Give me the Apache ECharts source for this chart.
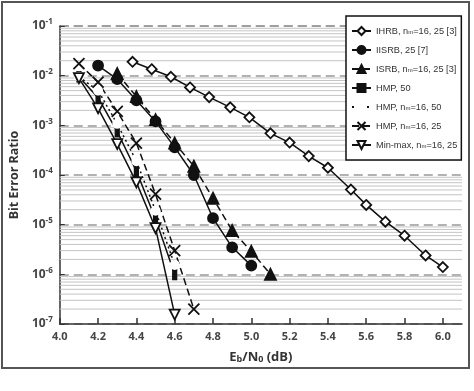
<!DOCTYPE html>
<html><head><meta charset="utf-8">
<script src="https://cdn.jsdelivr.net/npm/echarts@6/dist/echarts.min.js"></script>
<style>html,body{margin:0;padding:0;background:#fff}#c{width:474px;height:391px}</style>
</head><body><div id="c"></div>
<script>
// ---- data ----
const seriesNames = ['IHRB, n_m=16, 25 [3]','IISRB, 25 [7]','ISRB, n_m=16, 25 [3]','HMP, 50','HMP, n_m=16, 50','HMP, n_m=16, 25','Min-max, n_m=16, 25'];
const ihrbX = [4.38,4.48,4.58,4.68,4.78,4.89,4.99,5.10,5.20,5.30,5.40,5.52,5.60,5.70,5.80,5.91,6.00];
const ihrbY = [1.9e-2,1.35e-2,9.5e-3,5.8e-3,3.7e-3,2.3e-3,1.45e-3,6.9e-4,4.5e-4,2.4e-4,1.4e-4,5.1e-5,2.5e-5,1.15e-5,6.0e-6,2.4e-6,1.4e-6];
const iisrbX = [4.2,4.3,4.4,4.5,4.6,4.7,4.8,4.9,5.0];
const iisrbY = [1.6e-2,8.5e-3,3.2e-3,1.2e-3,3.6e-4,1.0e-4,1.35e-5,3.5e-6,1.5e-6];
const isrbX = [4.3,4.4,4.5,4.6,4.7,4.8,4.9,5.0,5.1];
const isrbY = [1.1e-2,3.8e-3,1.3e-3,4.4e-4,1.5e-4,3.4e-5,7.6e-6,2.9e-6,1.0e-6];
const hmp50X = [4.1,4.2,4.3,4.4,4.5,4.6];
const hmp50Y = [9.5e-3,3.6e-3,7.5e-4,1.2e-4,1.3e-5,1.0e-6];
const hmpN50X = [4.1,4.2,4.3,4.4,4.5,4.6];
const hmpN50Y = [9.5e-3,5.0e-3,1.07e-3,1.9e-4,1.9e-5,1.55e-6];
const hmpN25X = [4.1,4.2,4.3,4.4,4.5,4.6,4.7];
const hmpN25Y = [1.75e-2,7.4e-3,1.9e-3,4.4e-4,4.1e-5,3.0e-6,2.0e-7];
const minmaxX = [4.1,4.2,4.3,4.4,4.5,4.6];
const minmaxY = [8.9e-3,2.2e-3,4.2e-4,7.1e-5,8.5e-6,1.55e-7];
const xTicks = [4.0,4.2,4.4,4.6,4.8,5.0,5.2,5.4,5.6,5.8,6.0];
const xRange = [4.0, 6.1];
const yMinorLines = [];
for (let e = -7; e < -1; e++) for (let m = 2; m <= 9; m++) yMinorLines.push(m * Math.pow(10, e));

const pair = (xs, ys) => xs.map((x, i) => [x, ys[i]]);
const K = '#111';
const base = (name, xs, ys, symbol, size, fill, lineType) => ({
  name, type: 'line', data: pair(xs, ys), symbol, symbolSize: size,
  lineStyle: {color: K, width: 1.5, type: lineType},
  itemStyle: {color: fill, borderColor: K, borderWidth: 1.8},
  z: 3
});
const series = [
  base(seriesNames[0], ihrbX, ihrbY, 'diamond', 10, '#fff', 'solid'),
  base(seriesNames[1], iisrbX, iisrbY, 'circle', 10, K, 'solid'),
  base(seriesNames[2], isrbX, isrbY, 'triangle', 11, K, [7,4]),
  base(seriesNames[3], hmp50X, hmp50Y, 'rect', [4,9], K, 'solid'),
  base(seriesNames[4], hmpN50X, hmpN50Y, 'emptyCircle', 8, '#fff', [2,3]),
  base(seriesNames[5], hmpN25X, hmpN25Y, 'path://M0,0L10,10M10,0L0,10', 11, K, [7,4]),
  base(seriesNames[6], minmaxX, minmaxY, 'path://M0,0L10,0L5,9Z', 10, '#fff', 'solid')
];
// minor horizontal grid lines at 2..9 x 10^n, drawn through the axes
const minorData = [];
yMinorLines.forEach(v => { minorData.push([xRange[0], v], [xRange[1], v], [xRange[1], '-']); });
series.push({
  type: 'line', data: minorData, silent: true, z: 1, symbol: 'none', connectNulls: false,
  lineStyle: {color: '#c4c4c4', width: 1, type: 'solid'}
});

const legendFmt = n => {
  const p = n.split('n_m');
  if (p.length === 1) return '{a|' + n + '}';
  return '{a|' + p[0] + 'n}{sub|m}{a|' + p[1] + '}';
};

const chart = echarts.init(document.getElementById('c'), null, {renderer: 'canvas'});
chart.setOption({
  backgroundColor: '#fff',
  animation: false,
  grid: {left: 53, right: 12, top: 26, bottom: 67},
  graphic: [{type: 'rect', shape: {x: 2, y: 2, width: 467, height: 366},
    style: {fill: null, stroke: '#555', lineWidth: 2}, z: 100}],
  legend: {
    orient: 'vertical', left: 346, top: 16,
    backgroundColor: '#fff', borderColor: '#111', borderWidth: 1.5,
    padding: [10, 4, 10, 5], itemGap: 9, itemWidth: 19, itemHeight: 10,
    data: seriesNames,
    formatter: legendFmt,
    textStyle: {
      rich: {
        a: {fontFamily: 'Liberation Sans', fontSize: 9.2, color: '#333'},
        sub: {fontFamily: 'Liberation Sans', fontSize: 6, color: '#333', verticalAlign: 'bottom', lineHeight: 8}
      }
    }
  },
  xAxis: {
    type: 'value', min: xRange[0], max: xRange[1], interval: 0.2,
    name: '{n|E}{s|b}{n|/N}{s|0}{n| (dB)}', nameLocation: 'middle', nameGap: 27,
    nameTextStyle: {rich: {
      n: {fontFamily: 'Open Sans', fontWeight: 'bold', fontSize: 13, color: '#333'},
      s: {fontFamily: 'Open Sans', fontWeight: 'bold', fontSize: 9, color: '#333', verticalAlign: 'bottom', lineHeight: 12}
    }},
    axisLine: {lineStyle: {color: '#333', width: 1.5}},
    axisTick: {inside: true, length: 6, customValues: xTicks, lineStyle: {color: '#333', width: 1.5}},
    axisLabel: {customValues: xTicks, formatter: v => v.toFixed(1), margin: 7,
      fontFamily: 'Open Sans', fontWeight: 'bold', fontSize: 11, color: '#444'},
    splitLine: {show: false}
  },
  yAxis: {
    type: 'log', logBase: 10, min: 1e-7, max: 1e-1,
    name: 'Bit Error Ratio', nameLocation: 'middle', nameGap: 33, nameRotate: 90,
    nameTextStyle: {fontFamily: 'Open Sans', fontWeight: 'bold', fontSize: 12.5, color: '#333'},
    axisLine: {show: true, lineStyle: {color: '#333', width: 1.5}},
    axisTick: {inside: true, length: 5, lineStyle: {color: '#333'}},
    axisLabel: {
      margin: 7,
      formatter: v => '{b|10}{s|' + Math.round(Math.log10(v)) + '}',
      rich: {
        b: {fontFamily: 'Open Sans', fontWeight: 'bold', fontSize: 12, color: '#444', lineHeight: 16},
        s: {fontFamily: 'Open Sans', fontWeight: 'bold', fontSize: 8, color: '#444', verticalAlign: 'top', lineHeight: 10}
      }
    },
    splitLine: {show: true, lineStyle: {color: '#999', width: 1.5, type: [9, 5]}}
  },
  series
});
</script></body></html>
